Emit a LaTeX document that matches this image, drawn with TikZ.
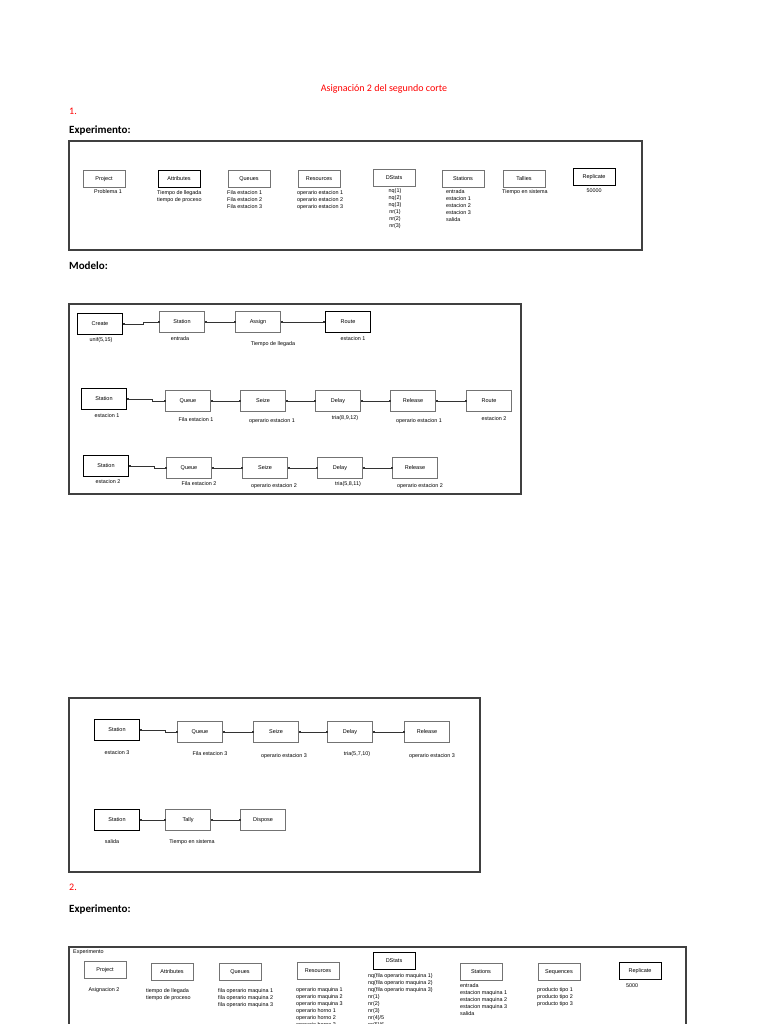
\documentclass[tikz,border=0pt]{standalone}
\usepackage{fontspec}
\setmainfont{Carlito}
\newfontfamily\arenafont{Liberation Sans}
\usetikzlibrary{arrows.meta}

\begin{document}
\begin{tikzpicture}[x=1pt, y=-1pt,
    module/.style ={rectangle, draw=black!55, line width=0.6pt, fill=white,
      minimum width=45pt, minimum height=21pt, inner sep=0pt,
      font=\arenafont\fontsize{5.5}{6.5}\selectfont},
    module_thick/.style ={module, draw=black, line width=1pt},
    exp_block/.style ={module, minimum width=42pt, minimum height=17pt},
    exp_thick/.style ={exp_block, draw=black, line width=1pt},
    note/.style ={inner sep=0pt, align=left, text=black,
      font=\arenafont\fontsize{5.4}{7}\selectfont},
    frame/.style ={draw=black!75, line width=1.1pt},
    heading/.style ={anchor=west, inner sep=0pt, font=\bfseries\fontsize{11}{13}\selectfont},
    red_text/.style ={inner sep=0pt, text=red, font=\fontsize{10}{12}\selectfont},
    line/.style ={draw=black!80, line width=0.7pt,
      {Square[length=1.6pt,width=1.6pt]}-{Square[length=1.6pt,width=1.6pt]}}]

    \useasboundingbox (0,0) rectangle (768,1024);
    \clip (0,0) rectangle (768,1024);

    % page texts
    \node [red_text] (title) at (384,89) {Asignación 2 del segundo corte};
    \node [red_text, anchor=west] (part1) at (69,111) {1.};
    \node [heading] (expHead1) at (69,131) {Experimento:};
    \node [heading] (modHead) at (69,266) {Modelo:};
    \node [red_text, anchor=west] (part2) at (69,887) {2.};
    \node [heading] (expHead2) at (69,909) {Experimento:};

    % frames
    \draw [frame] (69,141) rectangle (642,250);
    \draw [frame] (69,304) rectangle (521,494);
    \draw [frame] (69,698) rectangle (480,872);
    \draw [frame] (69,947) rectangle (686,1060);

    % experiment 1
    \node [exp_block] (project1) at (104,179) {Project};
    \node [note] (project1Txt) at (108,192) {Problema 1};
    \node [exp_thick] (attrib1) at (179,179) {Attributes};
    \node [note, anchor=north west] (attrib1Txt) at (157,190) {Tiempo de llegada\\tiempo de proceso};
    \node [exp_block] (queues1) at (249,179) {Queues};
    \node [note, anchor=north west] (queues1Txt) at (227,190) {Fila estacion 1\\Fila estacion 2\\Fila estacion 3};
    \node [exp_block] (resources1) at (319,179) {Resources};
    \node [note, anchor=north west] (resources1Txt) at (297,190) {operario estacion 1\\operario estacion 2\\operario estacion 3};
    \node [exp_block] (dstats1) at (394,178) {DStats};
    \node [note, anchor=north, align=center] (dstats1Txt) at (395,188) {nq(1)\\nq(2)\\nq(3)\\nr(1)\\nr(2)\\nr(3)};
    \node [exp_block] (stations1) at (463,179) {Stations};
    \node [note, anchor=north west] (stations1Txt) at (446,189) {entrada\\estacion 1\\estacion 2\\estacion 3\\salida};
    \node [exp_block] (tallies1) at (524,179) {Tallies};
    \node [note, anchor=north west] (tallies1Txt) at (502,189) {Tiempo en sistema};
    \node [exp_thick] (replicate1) at (594,177) {Replicate};
    \node [note] (replicate1Txt) at (594,191) {50000};

    % model, first row
    \node [module_thick] (create) at (100,324) {Create};
    \node [note] (createTxt) at (101,340) {unif(5,15)};
    \node [module] (entrada) at (182,322) {Station};
    \node [note] (entradaTxt) at (180,339) {entrada};
    \node [module] (assign) at (258,322) {Assign};
    \node [note] (assignTxt) at (273,344) {Tiempo de llegada};
    \node [module_thick] (route1) at (348,322) {Route};
    \node [note] (route1Txt) at (353,339) {estacion 1};

    % model, second row
    \node [module_thick] (station1) at (104,399) {Station};
    \node [note] (station1Txt) at (107,416) {estacion 1};
    \node [module] (queue1) at (188,401) {Queue};
    \node [note] (queue1Txt) at (196,420) {Fila estacion 1};
    \node [module] (seize1) at (263,401) {Seize};
    \node [note] (seize1Txt) at (272,421) {operario estacion 1};
    \node [module] (delay1) at (338,401) {Delay};
    \node [note] (delay1Txt) at (345,418) {tria(8,9,12)};
    \node [module] (release1) at (413,401) {Release};
    \node [note] (release1Txt) at (419,421) {operario estacion 1};
    \node [module] (route2) at (489,401) {Route};
    \node [note] (route2Txt) at (494,419) {estacion 2};

    % model, third row
    \node [module_thick] (station2) at (106,466) {Station};
    \node [note] (station2Txt) at (108,482) {estacion 2};
    \node [module] (queue2) at (189,468) {Queue};
    \node [note] (queue2Txt) at (199,484) {Fila estacion 2};
    \node [module] (seize2) at (265,468) {Seize};
    \node [note] (seize2Txt) at (274,486) {operario estacion 2};
    \node [module] (delay2) at (340,468) {Delay};
    \node [note] (delay2Txt) at (348,484) {tria(5,8,11)};
    \node [module] (release2) at (415,468) {Release};
    \node [note] (release2Txt) at (420,486) {operario estacion 2};

    % model, continued
    \node [module_thick] (station3) at (117,730) {Station};
    \node [note] (station3Txt) at (117,753) {estacion 3};
    \node [module] (queue3) at (200,732) {Queue};
    \node [note] (queue3Txt) at (210,754) {Fila estacion 3};
    \node [module] (seize3) at (276,732) {Seize};
    \node [note] (seize3Txt) at (284,756) {operario estacion 3};
    \node [module] (delay3) at (350,732) {Delay};
    \node [note] (delay3Txt) at (357,754) {tria(5,7,10)};
    \node [module] (release3) at (427,732) {Release};
    \node [note] (release3Txt) at (432,756) {operario estacion 3};
    \node [module_thick] (salida) at (117,820) {Station};
    \node [note] (salidaTxt) at (112,842) {salida};
    \node [module] (tally) at (188,820) {Tally};
    \node [note] (tallyTxt) at (192,842) {Tiempo en sistema};
    \node [module] (dispose) at (263,820) {Dispose};

    % experiment 2
    \node [note, anchor=north west] (exp2Txt) at (73,949) {Experimento};
    \node [exp_block] (project2) at (105,970) {Project};
    \node [note] (project2Txt) at (104,990) {Asignacion 2};
    \node [exp_block] (attrib2) at (172,972) {Attributes};
    \node [note, anchor=north west] (attrib2Txt) at (146,988) {tiempo de llegada\\tiempo de proceso};
    \node [exp_block] (queues2) at (240,972) {Queues};
    \node [note, anchor=north west] (queues2Txt) at (218,988) {fila operario maquina 1\\fila operario maquina 2\\fila operario maquina 3};
    \node [exp_block] (resources2) at (318,971) {Resources};
    \node [note, anchor=north west] (resources2Txt) at (296,987) {operario maquina 1\\operario maquina 2\\operario maquina 3\\operario horno 1\\operario horno 2\\operario horno 3};
    \node [exp_thick] (dstats2) at (394,961) {DStats};
    \node [note, anchor=north west] (dstats2Txt) at (368,973) {nq(fila operario maquina 1)\\nq(fila operario maquina 2)\\nq(fila operario maquina 3)\\nr(1)\\nr(2)\\nr(3)\\nr(4)/5\\nr(5)/6};
    \node [exp_block] (stations2) at (481,972) {Stations};
    \node [note, anchor=north west] (stations2Txt) at (460,983) {entrada\\estacion maquina 1\\estacion maquina 2\\estacion maquina 3\\salida};
    \node [exp_block] (sequences2) at (559,972) {Sequences};
    \node [note, anchor=north west] (sequences2Txt) at (537,987) {producto tipo 1\\producto tipo 2\\producto tipo 3};
    \node [exp_thick] (replicate2) at (640,971) {Replicate};
    \node [note] (replicate2Txt) at (632,986) {5000};

    \begin{scope}[every path/.style=line]
    % first row
    \path (create.east) -- ++(20,0) |- (entrada.west);
    \path (entrada.east) -- (assign.west);
    \path (assign.east) -- (route1.west);

    % second row
    \path (station1.east) -- ++(25,0) |- (queue1.west);
    \path (queue1.east) -- (seize1.west);
    \path (seize1.east) -- (delay1.west);
    \path (delay1.east) -- (release1.west);
    \path (release1.east) -- (route2.west);

    % third row
    \path (station2.east) -- ++(25,0) |- (queue2.west);
    \path (queue2.east) -- (seize2.west);
    \path (seize2.east) -- (delay2.west);
    \path (delay2.east) -- (release2.west);

    % continued
    \path (station3.east) -- ++(25,0) |- (queue3.west);
    \path (queue3.east) -- (seize3.west);
    \path (seize3.east) -- (delay3.west);
    \path (delay3.east) -- (release3.west);
    \path (salida.east) -- (tally.west);
    \path (tally.east) -- (dispose.west);
    \end{scope}

\end{tikzpicture}
\end{document}
